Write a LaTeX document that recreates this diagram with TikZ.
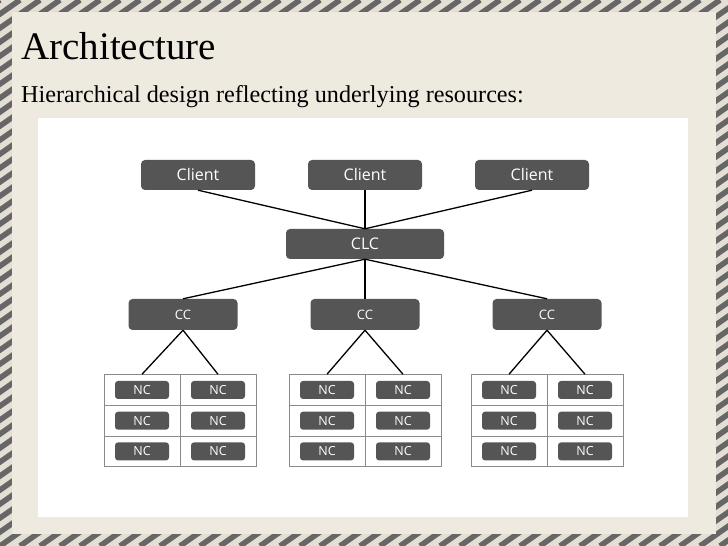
\documentclass[tikz,border=0pt]{standalone}
\usepackage{fontspec}
\setmainfont{Liberation Serif}
\newfontfamily\boxfont{Open Sans}
\usepackage{xcolor}
\usepackage{tikz}
\usetikzlibrary{positioning}

\definecolor{paper}{HTML}{EEEAE0}
\definecolor{boxgray}{HTML}{555555}
\definecolor{stripedark}{HTML}{666666}
\definecolor{stripelight}{HTML}{E4DFD4}
\definecolor{cellline}{HTML}{8A8A8A}

\begin{document}
\begin{tikzpicture}[x=1pt, y=1pt, node distance=167pt, auto,
        box/.style={fill=boxgray, rounded corners=4pt, text=white, inner sep=0pt,
            minimum width=114pt, minimum height=30pt, font=\boxfont\fontsize{16}{18}\selectfont},
        ccbox/.style={box, minimum width=109pt, minimum height=31pt, font=\boxfont\fontsize{13}{15}\selectfont},
        ncbox/.style={box, rounded corners=3pt, minimum width=54pt, minimum height=18pt,
            font=\boxfont\fontsize{12.5}{14}\selectfont},
        cell/.style={draw=cellline, line width=0.8pt, minimum width=76pt, minimum height=30.7pt, inner sep=0pt},
        link/.style={line width=1.3pt}]
        \useasboundingbox (0,0) rectangle (728,546);

        \fill[stripelight] (0,0) rectangle (728,546);
        \begin{scope}[even odd rule]
            \clip (0,0) rectangle (728,546) (12,12) rectangle (716,534);
            \foreach \i in {-800,-780,...,740}
                \draw[stripedark, line width=5.5pt] (\i,0) -- ++(780,546);
        \end{scope}
        \fill[paper] (12,12) rectangle (716,534);
        \fill[white] (38,29) rectangle (688,428);

        \node (title) [anchor=base west, inner sep=0pt] at (21,486) {\fontsize{39}{43}\selectfont Architecture};
        \node (subtitle) [anchor=base west, inner sep=0pt] at (21,443) {\fontsize{24.2}{27}\selectfont Hierarchical design reflecting underlying resources:};

        \node (client2) [box] at (365,371) {Client};
        \node (client1) [box, left of=client2] {Client};
        \node (client3) [box, right of=client2] {Client};

        \node (clc) [box, minimum width=158pt, below of=client2, node distance=69pt] {CLC};

        \node (cc2) [ccbox, below of=clc, node distance=70.5pt] {CC};
        \node (cc1) [ccbox, left of=cc2, node distance=182pt] {CC};
        \node (cc3) [ccbox, right of=cc2, node distance=182pt] {CC};

        \foreach \g/\x in {1/142, 2/327, 3/509} {
            \foreach \r/\y in {1/156, 2/125.3, 3/94.6} {
                \node (cell\g\r a) [cell] at (\x,\y) {};
                \node (cell\g\r b) [cell, right of=cell\g\r a, node distance=76pt] {};
                \node (nc\g\r a) [ncbox] at (cell\g\r a) {NC};
                \node (nc\g\r b) [ncbox] at (cell\g\r b) {NC};
            }
        }

        \draw[link] (client1.south) -- (clc.north);
        \draw[link] (client2.south) -- (clc.north);
        \draw[link] (client3.south) -- (clc.north);

        \draw[link] (clc.south) -- (cc1.north);
        \draw[link] (clc.south) -- (cc2.north);
        \draw[link] (clc.south) -- (cc3.north);

        \draw[link] (cc1.south) -- (cell11a.north);
        \draw[link] (cc1.south) -- (cell11b.north);
        \draw[link] (cc2.south) -- (cell21a.north);
        \draw[link] (cc2.south) -- (cell21b.north);
        \draw[link] (cc3.south) -- (cell31a.north);
        \draw[link] (cc3.south) -- (cell31b.north);

    \end{tikzpicture}
\end{document}
